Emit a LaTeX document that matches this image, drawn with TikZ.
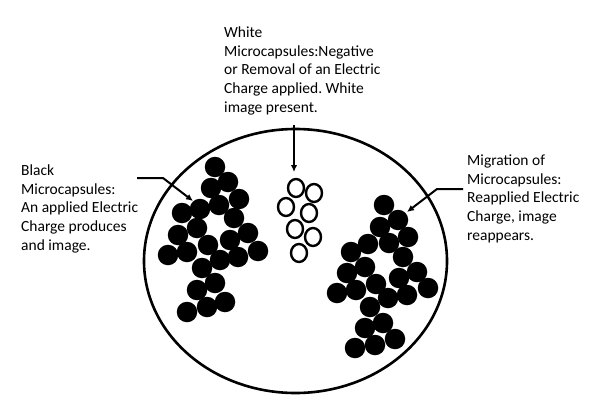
\documentclass[tikz,border=0pt]{standalone}
\usepackage{fontspec}
\setmainfont{Carlito}
\frenchspacing
\usetikzlibrary{arrows.meta,shapes.geometric}
\begin{document}
\begin{tikzpicture}[x=1pt,y=-1pt,
  blk/.style={circle,fill=black,draw=none,minimum size=20.5pt,inner sep=0pt},
  wht/.style={ellipse,draw=black,line width=2.4pt,fill=white,minimum width=16pt,minimum height=18pt,inner sep=0pt},
  lbl/.style={anchor=base west,align=left,inner sep=0pt,font=\fontsize{15.5pt}{18.8pt}\selectfont,text=black},
  arr/.style={line width=2pt,-{Latex[length=7pt,width=6.5pt]}}]
\useasboundingbox (0,0) rectangle (603,410);
\draw[line width=2.6pt] (295.5,261) ellipse [x radius=151.5, y radius=132];
% left black cluster
\foreach \n/\p/\q in {1/215/167,2/228/182,3/211/188,4/239/199,5/219/205,6/200/209,7/182/213,8/234/218,9/197/228,10/178/235,11/248/233,12/230/240,13/208/245,14/168/255,15/187/252,16/258/251,17/238/257,18/220/260,19/202/268,20/215/283,21/197/290,22/225/302,23/207/307,24/187/312}
  \node[blk] (l\n) at (\p,\q) {};
% right black cluster
\foreach \n/\p/\q in {1/384/205,2/398/220,3/380/227,4/408/237,5/389/243,6/368/244,7/351/252,8/403/257,9/365/267,10/347/273,11/417/272,12/399/278,13/376/284,14/337/293,15/356/290,16/428/288,17/407/295,18/388/298,19/370/307,20/383/323,21/365/328,22/395/339,23/375/345,24/355/348}
  \node[blk] (r\n) at (\p,\q) {};
% white capsules
\foreach \n/\p/\q in {1/296/188,2/314/193,3/286/207,4/309/213,5/295/229,6/313/237,7/299/253}
  \node[wht] (w\n) at (\p,\q) {};
% labels (anchored at the baseline of the last line)
\node[lbl] (tw) at (224,112.5) {White\\Microcapsules:Negative\\or Removal of an Electric\\Charge applied. White\\image present.};
\node[lbl] (tb) at (21,250.5) {Black\\Microcapsules:\\An applied Electric\\Charge produces\\and image.};
\node[lbl] (tm) at (467,240.5) {Migration of\\Microcapsules:\\Reapplied Electric\\Charge, image\\reappears.};
% arrows
\coordinate (as) at (294,125);
\coordinate (at) at (294,172);
\draw[arr] (as) -- (at);
\coordinate (bs) at (137,178);
\coordinate (bk) at (163,178);
\coordinate (bt) at (193,201);
\draw[arr] (bs) -- (bk) -- (bt);
\coordinate (ms) at (463,189);
\coordinate (mk) at (437,189);
\coordinate (mt) at (407,212);
\draw[arr] (ms) -- (mk) -- (mt);
\end{tikzpicture}
\end{document}
